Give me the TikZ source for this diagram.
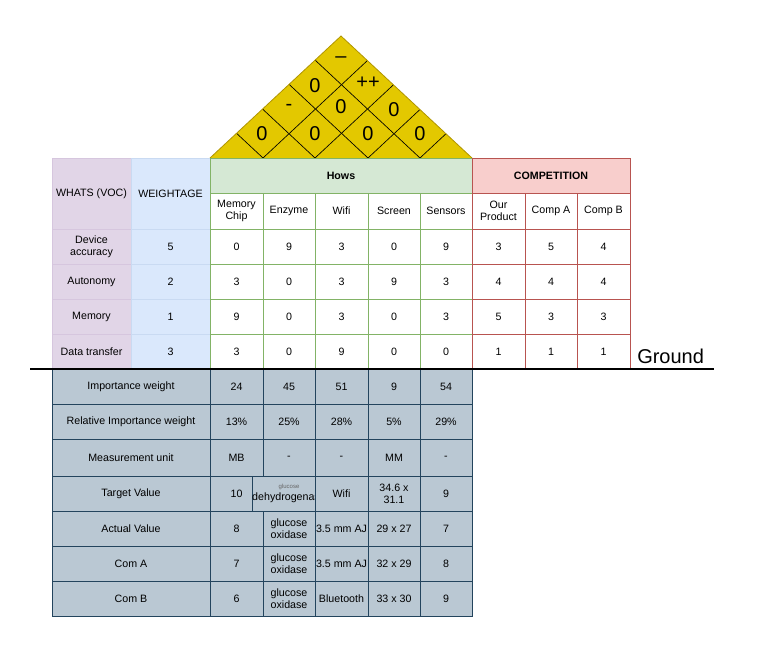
\documentclass[tikz,border=0pt]{standalone}
\usepackage{fontspec}
\setmainfont{Liberation Sans}
\definecolor{purf}{HTML}{E1D5E7}\definecolor{purd}{HTML}{D6C6DE}
\definecolor{bluf}{HTML}{DAE8FC}\definecolor{blud}{HTML}{C9DAF2}
\definecolor{grnf}{HTML}{D5E8D4}\definecolor{grnd}{HTML}{82B366}
\definecolor{redf}{HTML}{F8CECC}\definecolor{redd}{HTML}{B85450}
\definecolor{botf}{HTML}{BAC8D3}\definecolor{botd}{HTML}{23445D}
\definecolor{roof}{HTML}{E3C800}\definecolor{roofd}{HTML}{B09500}
\newcommand\qcell[7]{%
\pgfmathsetmacro\cw{(#4-#2)*0.75}\pgfmathsetmacro\ch{(#5-#3)*0.75}%
\node[#6,minimum width=\cw pt,minimum height=\ch pt] (#1) at ({(#2+#4)/2},{(#3+#5)/2}) {#7};}
\tikzset{
 base/.style={draw,inner sep=0pt,align=center,font=\fontsize{8}{9}\selectfont,line width=0.6pt},
 pur/.style={base,fill=purf,draw=purd},
 blu/.style={base,fill=bluf,draw=blud},
 grnh/.style={base,fill=grnf,draw=grnd},
 grnc/.style={base,fill=white,draw=grnd},
 redh/.style={base,fill=redf,draw=redd},
 redc/.style={base,fill=white,draw=redd},
 bot/.style={base,fill=botf,draw=botd},
 rooftxt/.style={font=\fontsize{15}{15}\selectfont,inner sep=0pt}
}
\begin{document}
\begin{tikzpicture}[x=0.75pt,y=-0.75pt]
\useasboundingbox (0,0) rectangle (757,661);
% roof
\coordinate (rl) at (210,158);\coordinate (rr) at (472,158);\coordinate (ra) at (341,36);
\fill[roof] (rl)--(ra)--(rr)--cycle;
\begin{scope}
\clip (rl)--(ra)--(rr)--cycle;
\foreach \b in {263,315,368,420}{
 \draw[line width=0.5pt] (\b,158)--++(-150,-140);
 \draw[line width=0.5pt] (\b,158)--++(150,-140);}
\end{scope}
\draw[roofd,line width=0.6pt] (rl)--(ra)--(rr);
\node[rooftxt] (p12) at (262,134) {0};
\node[rooftxt] (p23) at (315,134) {0};
\node[rooftxt] (p34) at (368,134) {0};
\node[rooftxt] (p45) at (420,134) {0};
\node[rooftxt] (p13) at (289,107) {-};
\node[rooftxt] (p24) at (341,107) {0};
\node[rooftxt] (p35) at (394,110) {0};
\node[rooftxt] (p14) at (315,86) {0};
\node[rooftxt] (p25) at (368,83) {++};
\node[rooftxt] (p15) at (341,60) {--};
% headers
\qcell{whats}{52}{158}{131}{229}{pur}{WHATS (VOC)}
\qcell{weight}{131}{158}{210}{229}{blu}{WEIGHTAGE}
\qcell{hows}{210}{158}{472}{193}{grnh,font=\fontsize{8}{9}\selectfont\bfseries}{Hows}
\qcell{comp}{472}{158}{630}{193}{redh,font=\fontsize{8}{9}\selectfont\bfseries}{COMPETITION}
\def\hx{{210,263,315,368,420,472}}
\def\cx{{472,525,577,630}}
\foreach \t [count=\i from 0] in {Memory\\Chip,Enzyme,Wifi,Screen,Sensors}{
 \pgfmathsetmacro\xa{\hx[\i]}\pgfmathsetmacro\xb{\hx[\i+1]}
 \qcell{h\i}{\xa}{193}{\xb}{229}{grnc}{\t}}
\foreach \t [count=\i from 0] in {Our\\Product,Comp A,Comp B}{
 \pgfmathsetmacro\xa{\cx[\i]}\pgfmathsetmacro\xb{\cx[\i+1]}
 \qcell{c\i}{\xa}{193}{\xb}{229}{redc}{\t}}
% body rows
\foreach \w/\wv/\hv/\cv [count=\r from 0] in {
 {Device\\accuracy}/5/{0,9,3,0,9}/{3,5,4},
 Autonomy/2/{3,0,3,9,3}/{4,4,4},
 Memory/1/{9,0,3,0,3}/{5,3,3},
 Data transfer/3/{3,0,9,0,0}/{1,1,1}}{
 \pgfmathsetmacro\ya{229+35*\r}\pgfmathsetmacro\yb{264+35*\r}
 \qcell{w\r}{52}{\ya}{131}{\yb}{pur}{\w}
 \qcell{g\r}{131}{\ya}{210}{\yb}{blu}{\wv}
 \foreach \v [count=\i from 0] in \hv {
  \pgfmathsetmacro\xa{\hx[\i]}\pgfmathsetmacro\xb{\hx[\i+1]}
  \qcell{m\r\i}{\xa}{\ya}{\xb}{\yb}{grnc}{\v}}
 \foreach \v [count=\i from 0] in \cv {
  \pgfmathsetmacro\xa{\cx[\i]}\pgfmathsetmacro\xb{\cx[\i+1]}
  \qcell{k\r\i}{\xa}{\ya}{\xb}{\yb}{redc}{\v}}
}
% bottom table
\def\by{{369,404,439,476,511,546,581,616}}
\foreach \lab/\vals [count=\r from 0] in {
 Importance weight/{24,45,51,9,54},
 Relative Importance weight/{13\%,25\%,28\%,5\%,29\%},
 Measurement unit/{MB,-,-,MM,-},
 Target Value/{10,{\fontsize{4.5}{5}\selectfont\color{black!60}glucose\\dehydrogenase},Wifi,{34.6 x\\31.1},9},
 Actual Value/{8,{glucose\\oxidase},3.5 mm AJ,29 x 27,7},
 Com A/{7,{glucose\\oxidase},3.5 mm AJ,32 x 29,8},
 Com B/{6,{glucose\\oxidase},Bluetooth,33 x 30,9}}{
 \pgfmathsetmacro\ya{\by[\r]}\pgfmathsetmacro\yb{\by[\r+1]}
 \qcell{b\r}{52}{\ya}{210}{\yb}{bot}{\lab}
 \foreach \v [count=\i from 0] in \vals {
  \pgfmathsetmacro\xa{\hx[\i]}\pgfmathsetmacro\xb{\hx[\i+1]}
  \qcell{bv\r\i}{\xa}{\ya}{\xb}{\yb}{bot}{\v}}
}
% ground
\coordinate (gl) at (30,369);\coordinate (gr) at (714,369);
\draw[line width=2.2pt] (gl)--(gr);
\node[font=\fontsize{15}{15}\selectfont,anchor=south west,inner sep=0pt] (ground) at (637,364) {Ground};
\end{tikzpicture}
\end{document}
